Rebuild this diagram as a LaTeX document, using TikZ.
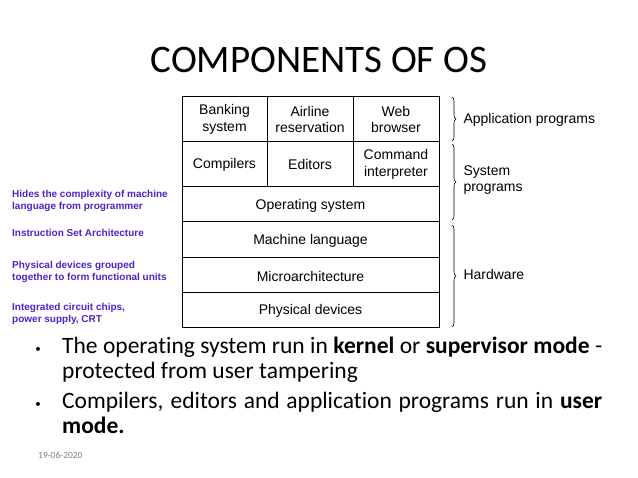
\documentclass[tikz,border=0pt]{standalone}
\usepackage{fontspec}
\setmainfont{Carlito}[Ligatures=NoCommon]
\newfontfamily\arial{Liberation Sans}
\usetikzlibrary{decorations.pathreplacing}
\definecolor{lab}{HTML}{4F22C8}
\begin{document}
\begin{tikzpicture}[x=1pt,y=-1pt,
 cell/.style={draw,line width=1pt},
 ctext/.style={font=\arial\fontsize{14}{16.5}\selectfont,align=center},
 side/.style={font=\arial\fontsize{14}{16.5}\selectfont,anchor=west,align=left},
 lbl/.style={font=\arial\bfseries\fontsize{10}{12.5}\selectfont,text=lab,anchor=west,align=left,inner sep=0},
 br/.style={decorate,decoration={brace,amplitude=4pt},line width=0.6pt},
 bul/.style={anchor=north west,inner sep=0,text width=540pt,align=justify,font=\fontsize{23.5}{25}\selectfont}]
\useasboundingbox (0,0) rectangle (638,478);
\node (title) at (319,60) {\fontsize{39}{44}\selectfont COMPONENTS OF OS};
\draw[cell] (182,97) rectangle (439,328);
\foreach \y in {142,187,222,258,293} \draw[cell] (182,\y) -- (439,\y);
\draw[cell] (267,97) -- (267,187);
\draw[cell] (353,97) -- (353,187);
\node[ctext] (bank) at (224.5,119.5) {Banking\\system};
\node[ctext] (air) at (310,119.5) {Airline\\reservation};
\node[ctext] (web) at (396,119.5) {Web\\browser};
\node[ctext] (comp) at (224.5,164.5) {Compilers};
\node[ctext] (ed) at (310,164.5) {Editors};
\node[ctext] (cmd) at (396,164.5) {Command\\interpreter};
\node[ctext] (os) at (310.5,206) {Operating system};
\node[ctext] (ml) at (310.5,241) {Machine language};
\node[ctext] (ma) at (310.5,276) {Microarchitecture};
\node[ctext] (pd) at (310.5,311) {Physical devices};
\draw[br] (452,97) -- (452,141);
\draw[br] (452,144) -- (452,220);
\draw[br] (452,225) -- (452,327);
\node[side] (ap) at (460,119.5) {Application programs};
\node[side] (sp) at (460,180) {System\\programs};
\node[side] (hw) at (460,274) {Hardware};
\node[lbl] (l1) at (12,201) {Hides the complexity of machine\\language from programmer};
\node[lbl] (l2) at (12,233) {Instruction Set Architecture};
\node[lbl] (l3) at (12,272) {Physical devices grouped\\together to form functional units};
\node[lbl] (l4) at (12,314) {Integrated circuit chips,\\power supply, CRT};
\node[bul] (b1) at (62,337)
 {The operating system run in \textbf{kernel} or \textbf{supervisor mode}~- protected from user tampering};
\node[bul] (b2) at (62,392)
 {Compilers, editors and application programs run in \textbf{user mode.}};
\node (d1) at (38,350) {\fontsize{11}{13}\selectfont•};
\node (d2) at (38,405) {\fontsize{11}{13}\selectfont•};
\node[anchor=west,text=gray,font=\fontsize{9.5}{11}\selectfont,inner sep=0] (date) at (38,455) {19-06-2020};
\end{tikzpicture}
\end{document}
